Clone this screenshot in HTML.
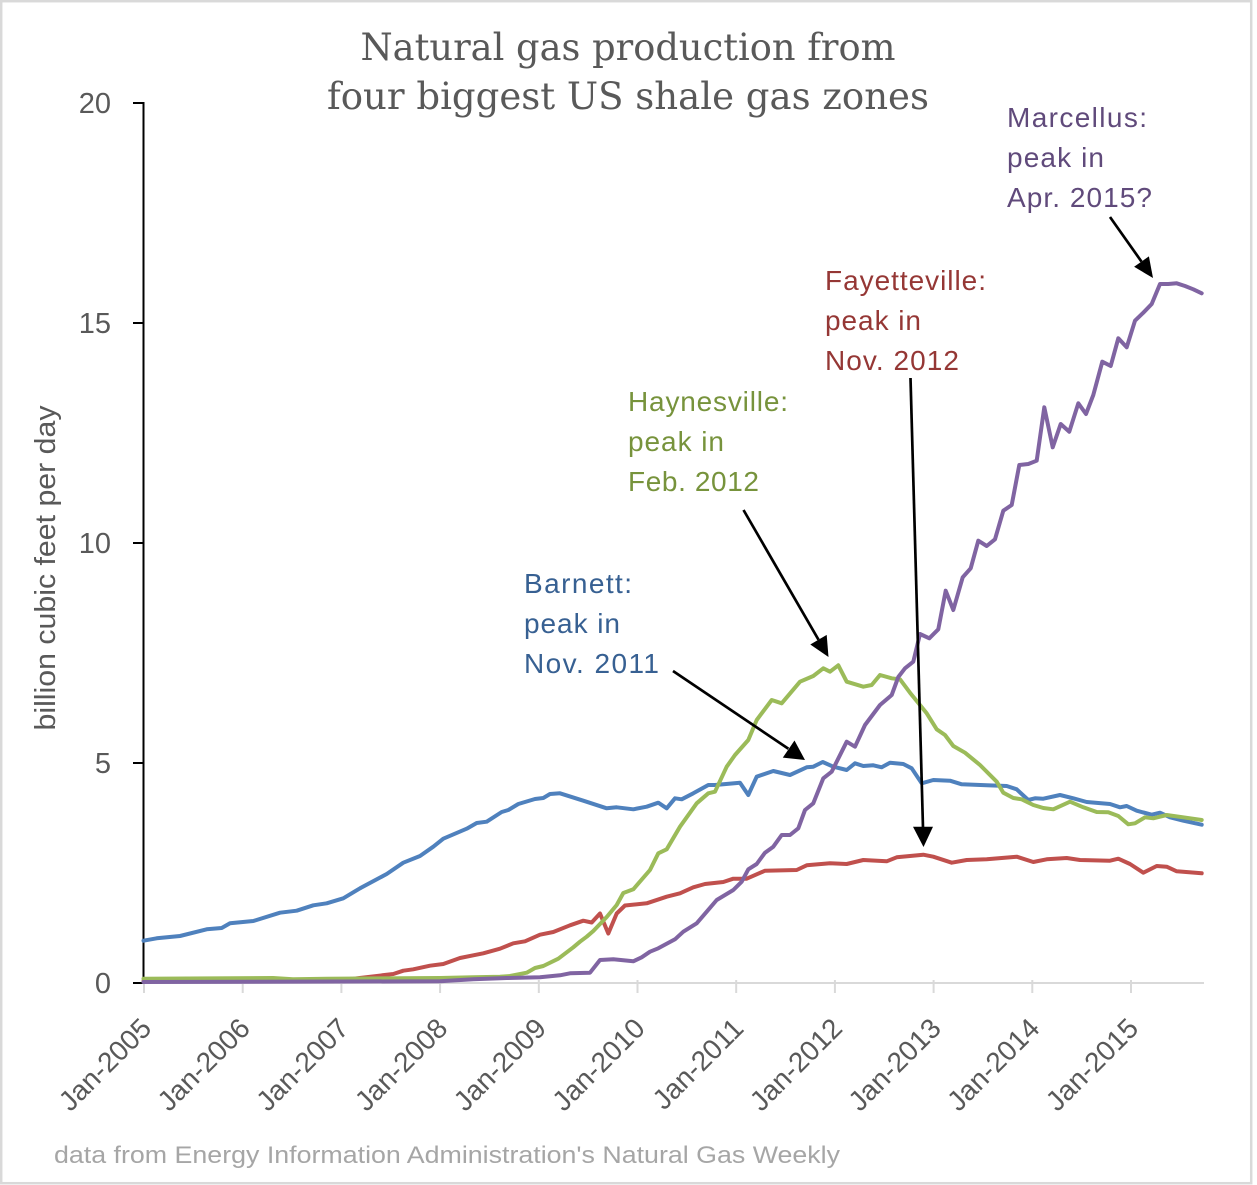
<!DOCTYPE html>
<html>
<head>
<meta charset="utf-8">
<style>
html,body{margin:0;padding:0;background:#fff;}
svg{display:block;}
</style>
</head>
<body>
<svg width="1257" height="1185" viewBox="0 0 1257 1185" xmlns="http://www.w3.org/2000/svg">
<rect x="0" y="0" width="1257" height="1185" fill="#fff"/>
<rect x="1.2" y="1.2" width="1250" height="1182" fill="none" stroke="#d9d9d9" stroke-width="2.5"/>

<!-- Title -->
<g font-family="'DejaVu Serif', 'Liberation Serif', serif" font-size="37" fill="#595959" text-anchor="middle">
<text x="628" y="60" textLength="535" lengthAdjust="spacingAndGlyphs">Natural gas production from</text>
<text x="628" y="109" textLength="602" lengthAdjust="spacingAndGlyphs">four biggest US shale gas zones</text>
</g>

<!-- x axis line and ticks -->
<line x1="144" y1="983" x2="1204" y2="983" stroke="#d9d9d9" stroke-width="2"/>
<g stroke="#d9d9d9" stroke-width="2">
<line x1="144" y1="980" x2="144" y2="993"/>
<line x1="242.7" y1="980" x2="242.7" y2="993"/>
<line x1="341.4" y1="980" x2="341.4" y2="993"/>
<line x1="440.1" y1="980" x2="440.1" y2="993"/>
<line x1="538.8" y1="980" x2="538.8" y2="993"/>
<line x1="637.5" y1="980" x2="637.5" y2="993"/>
<line x1="736.2" y1="980" x2="736.2" y2="993"/>
<line x1="834.9" y1="980" x2="834.9" y2="993"/>
<line x1="933.6" y1="980" x2="933.6" y2="993"/>
<line x1="1032.3" y1="980" x2="1032.3" y2="993"/>
<line x1="1131" y1="980" x2="1131" y2="993"/>
</g>

<!-- y axis -->
<line x1="143.5" y1="102" x2="143.5" y2="984" stroke="#000" stroke-width="2"/>
<g stroke="#000" stroke-width="2">
<line x1="133" y1="103" x2="144" y2="103"/>
<line x1="133" y1="323" x2="144" y2="323"/>
<line x1="133" y1="543" x2="144" y2="543"/>
<line x1="133" y1="763" x2="144" y2="763"/>
<line x1="133" y1="983" x2="144" y2="983"/>
</g>
<g font-family="'Liberation Sans', sans-serif" font-size="29" fill="#595959" text-anchor="end">
<text x="111" y="113">20</text>
<text x="111" y="333">15</text>
<text x="111" y="553">10</text>
<text x="111" y="773">5</text>
<text x="111" y="993">0</text>
</g>
<text transform="translate(55,568) rotate(-90)" font-family="'Liberation Sans', sans-serif" font-size="29" fill="#595959" text-anchor="middle" textLength="325" lengthAdjust="spacingAndGlyphs">billion cubic feet per day</text>

<!-- x labels -->
<g font-family="'Liberation Sans', sans-serif" font-size="28" fill="#595959" text-anchor="end">
<text transform="translate(153,1030) rotate(-45)">Jan-2005</text>
<text transform="translate(251.7,1030) rotate(-45)">Jan-2006</text>
<text transform="translate(350.4,1030) rotate(-45)">Jan-2007</text>
<text transform="translate(449.1,1030) rotate(-45)">Jan-2008</text>
<text transform="translate(547.8,1030) rotate(-45)">Jan-2009</text>
<text transform="translate(646.5,1030) rotate(-45)">Jan-2010</text>
<text transform="translate(745.2,1030) rotate(-45)">Jan-2011</text>
<text transform="translate(843.9,1030) rotate(-45)">Jan-2012</text>
<text transform="translate(942.6,1030) rotate(-45)">Jan-2013</text>
<text transform="translate(1041.3,1030) rotate(-45)">Jan-2014</text>
<text transform="translate(1140,1030) rotate(-45)">Jan-2015</text>
</g>

<!-- Series -->
<g fill="none" stroke-width="4" stroke-linejoin="round" stroke-linecap="round">
<polyline stroke="#4F81BD" points="143.5,940.7 156.7,938.3 180,936 206.7,929.3 221.7,928 230,923.3 253.3,921 280,912.7 296.7,910.7 313.3,905.3 326.7,903.3 343.3,898.3 360,888.3 386.7,874 403.3,862.7 420,856 433.3,846.7 443.3,838.7 466.7,828.7 476.7,823 486.7,821.7 501.7,812 508.3,810 518.3,804 535,799 543.3,798 550,794 560,793.3 583.3,800.7 606.7,808.3 616.7,807.3 633.3,809.3 646.7,806.7 658.3,802.7 666.7,808.3 675,798.3 681.7,799.3 693.3,793.3 708.3,785 715,785 740,782.7 748.3,795 756.7,776.7 773.3,771 790,775 806.7,767.3 813.3,766.7 822.7,762 833.3,766.7 846.7,770 855,763.3 863.3,766 873.3,765.3 881.7,767.3 890,762.7 903.3,764 911.7,768.3 921.7,783.3 933.3,780 950,780.7 961.7,784.3 986.7,785.3 1006.7,786 1016.7,789.3 1021.7,794 1028.3,800 1035,798.3 1043.3,798.7 1060,795 1073.3,798.3 1086.7,802 1110,804 1120,807.3 1126.7,806 1136.7,810.7 1151.7,814.7 1160,812.7 1170,817.3 1183.3,820.7 1201.7,824.7"/>
<polyline stroke="#C0504D" points="143.5,981.3 326.7,980.5 353.3,978.7 393.3,974 403.3,970.7 413.3,969.3 430,965.7 443.3,964 460,958 473.3,955.3 483.3,953.3 500,948.7 513.3,943.3 525,941.3 540,934.7 553.3,932 570,925.3 583.3,920.7 591.7,922.5 600,913.5 608.3,933.5 616.7,913.5 625,905.5 646.7,903.3 666.7,896.7 680,893.3 693.3,887.3 705,884 723.3,882 733.3,878.7 746.7,878.7 765,870.7 796.7,870 806.7,865.3 830,863.3 846.7,864 863.3,860 886.7,861.3 896.7,857.3 923.3,854.7 933.3,856.7 951.7,862.7 966.7,860 986.7,859.3 1016.7,856.7 1033.3,862 1046.7,859.3 1066.7,858 1080,860 1110,860.7 1118.3,858.7 1130,864 1143.3,872.7 1156.7,866 1166.7,866.7 1176.7,871.3 1201.7,873.3"/>
<polyline stroke="#9BBB59" points="143.5,978.7 273,978 293,979.3 326.7,978.7 440,978 473.3,977.3 500,976.7 510,976 526.7,972.7 535,968 543.3,966 558.3,958.7 573.3,947.3 580,941.7 586.7,936.7 593.3,931 600,924 606.7,917 616.7,905 623.3,893 633.3,889.3 650,870 658.3,853.3 666.7,849.3 680,826.7 696.7,803.3 708.3,793.3 715,791.7 726.7,766.7 735,755 748.3,740 756.7,720 771.7,700 781.7,703.3 800,681.7 813.3,676 823.3,668.3 830,671.7 838.3,665.3 846.7,681.7 863.3,686.7 871.7,685 880,675 891.7,678.3 900,679.3 910,692.7 926.7,713.3 936.7,729.3 945,735 953.3,746 965,752.7 980,765 996.7,781.7 1003.3,792.7 1013.3,798 1021.7,799.3 1033.3,805 1043.3,808 1053.3,809.3 1070,801.7 1083.3,807.3 1096.7,812 1108.3,812.3 1118.3,816 1128.3,824.3 1135,823.3 1145,817.3 1153.3,818.3 1166.7,815 1183.3,817.3 1201.7,820"/>
<polyline stroke="#8064A2" points="143.5,982 440,981.3 473.3,979.3 506.7,978 540,977.3 560,975.3 570,973.3 590,972.7 600,960 613.3,959.3 633.3,961.3 641.7,957.3 650,951.7 658.3,948.3 675,939.3 683.3,931.7 696.7,923.3 706.7,911.7 716.7,900 733.3,890 741.7,881.7 748.3,869.3 756.7,864 765,852.7 773.3,846.7 781.7,835 790,835 798.3,828.3 805,810 813.3,803.3 823.3,778.3 831.7,771.7 846.7,741.7 855,746.7 865,725 880,705 891.7,695 898.3,677 905,668.3 913.3,661.7 920,634 929.3,638.3 938.3,629.3 945.7,590.7 953.3,610 962.7,577.3 970.7,568.3 978.3,540.7 986.7,546 995,539.3 1003.3,510.7 1011.7,505 1019.3,465 1028.3,464 1036.7,460.7 1044.3,407.3 1052.7,447.3 1060.7,424 1069.3,431.7 1078.3,403.3 1086,414 1093.3,395 1102.3,361.7 1110.7,366 1118.3,338.3 1126.7,347.3 1135,320.7 1143.3,312.7 1151.7,304 1160,284 1168.3,284 1176.7,283.3 1185,286 1193.3,289.3 1201.7,293.3"/>
</g>

<!-- Arrows -->
<g stroke="#000" stroke-width="2.7">
<line x1="1110" y1="217" x2="1141.5" y2="261.6"/>
<line x1="910.5" y1="378" x2="923" y2="828"/>
<line x1="743.5" y1="510" x2="818.5" y2="639.7"/>
<line x1="673" y1="671" x2="788.4" y2="748.8"/>
</g>
<g fill="#000">
<polygon points="1153,278 1134.1,266.8 1148.9,256.4"/>
<polygon points="923.5,847 913,826.7 933,826.7"/>
<polygon points="828.5,657 810.3,644.5 826.7,634.9"/>
<polygon points="805,760 782.8,757.6 794.5,740.5"/>
</g>

<!-- Annotations -->
<g font-family="'Liberation Sans', sans-serif" font-size="28" lengthAdjust="spacingAndGlyphs">
<g fill="#604A7B">
<text x="1007" y="127" textLength="140">Marcellus:</text>
<text x="1007" y="167" textLength="97">peak in</text>
<text x="1007" y="207" textLength="145">Apr. 2015?</text>
</g>
<g fill="#953735">
<text x="825" y="290" textLength="161">Fayetteville:</text>
<text x="825" y="330" textLength="96">peak in</text>
<text x="825" y="370" textLength="134">Nov. 2012</text>
</g>
<g fill="#77933C">
<text x="628" y="411" textLength="160">Haynesville:</text>
<text x="628" y="451" textLength="96">peak in</text>
<text x="628" y="491" textLength="131">Feb. 2012</text>
</g>
<g fill="#376092">
<text x="524" y="593" textLength="108">Barnett:</text>
<text x="524" y="633" textLength="96">peak in</text>
<text x="524" y="673" textLength="135">Nov. 2011</text>
</g>
</g>

<!-- Footer -->
<text x="54" y="1163" font-family="'Liberation Sans', sans-serif" font-size="24" fill="#a6a6a6" textLength="786" lengthAdjust="spacingAndGlyphs">data from Energy Information Administration's Natural Gas Weekly</text>
</svg>
</body>
</html>
